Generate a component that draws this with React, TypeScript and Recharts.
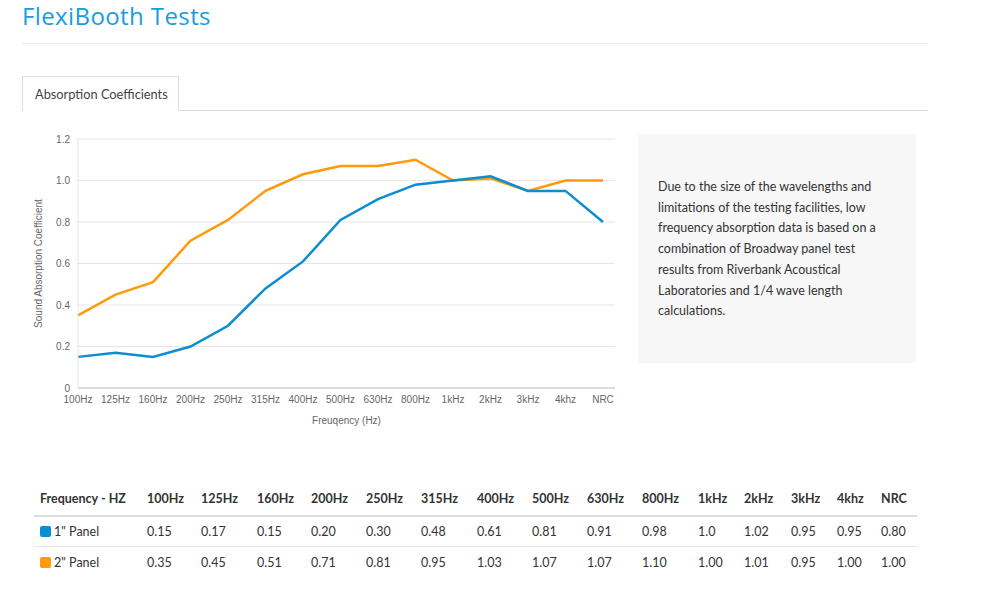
import React from 'react';
import { LineChart, Line, XAxis, YAxis, CartesianGrid } from 'recharts';

const categories = ['100Hz', '125Hz', '160Hz', '200Hz', '250Hz', '315Hz', '400Hz', '500Hz', '630Hz', '800Hz', '1kHz', '2kHz', '3kHz', '4khz', 'NRC'];
const panel1 = [0.15, 0.17, 0.15, 0.2, 0.3, 0.48, 0.61, 0.81, 0.91, 0.98, 1.0, 1.02, 0.95, 0.95, 0.8];
const panel2 = [0.35, 0.45, 0.51, 0.71, 0.81, 0.95, 1.03, 1.07, 1.07, 1.1, 1.0, 1.01, 0.95, 1.0, 1.0];
const panel1Labels = ['0.15', '0.17', '0.15', '0.20', '0.30', '0.48', '0.61', '0.81', '0.91', '0.98', '1.0', '1.02', '0.95', '0.95', '0.80'];
const panel2Labels = ['0.35', '0.45', '0.51', '0.71', '0.81', '0.95', '1.03', '1.07', '1.07', '1.10', '1.00', '1.01', '0.95', '1.00', '1.00'];
const yTicks = [0, 0.2, 0.4, 0.6, 0.8, 1.0, 1.2];
const seriesNames = ['1" Panel', '2" Panel'];

const BLUE = '#0b8dd2';
const ORANGE = '#ff9a0a';

const data = categories.map((c, i) => ({ name: c, p1: panel1[i], p2: panel2[i] }));

const colWidths = [107, 54, 56, 54, 55, 55, 56, 55, 55, 55, 56, 46, 47, 46, 44, 42];

const description =
  'Due to the size of the wavelengths and limitations of the testing facilities, low frequency absorption data is based on a combination of Broadway panel test results from Riverbank Acoustical Laboratories and 1/4 wave length calculations.';

const lato = 'Lato, "Open Sans", sans-serif';

export default function App() {
  const cellBase: React.CSSProperties = { padding: '0 0 0 6px', textAlign: 'left', whiteSpace: 'nowrap' };
  return (
    <div style={{ position: 'absolute', left: 0, top: 0, width: 1000, height: 598, background: '#fff', overflow: 'hidden', fontFamily: lato }}>
      <div style={{ position: 'absolute', left: 22, top: 0, height: 32, lineHeight: '32px', fontSize: 24, letterSpacing: 0.4, color: '#1a9be0', fontFamily: '"Open Sans", sans-serif' }}>
        FlexiBooth Tests
      </div>
      <div style={{ position: 'absolute', left: 22, top: 43, width: 906, height: 1, background: '#ececec' }} />

      <div style={{ position: 'absolute', left: 22, top: 76, width: 155, height: 34, border: '1px solid #dedede', borderBottom: 'none', background: '#fff', boxSizing: 'content-box' }}>
        <div style={{ position: 'absolute', left: 12, top: 0, lineHeight: '34px', fontSize: 12.8, color: '#444' }}>Absorption Coefficients</div>
      </div>
      <div style={{ position: 'absolute', left: 179, top: 110, width: 749, height: 1, background: '#dedede' }} />

      <div style={{ position: 'absolute', left: 0, top: 0 }}>
        <LineChart width={640} height={440} data={data} margin={{ top: 139, right: 25, bottom: 12, left: 33 }}>
          <CartesianGrid vertical={false} stroke="#e6e6e6" />
          <XAxis
            dataKey="name"
            tickLine={false}
            axisLine={{ stroke: '#c4c4c4' }}
            tick={{ fontSize: 10, fill: '#666', fontFamily: '"Liberation Sans", Arial, sans-serif' }}
            interval={0}
            padding={{ left: 0, right: 12 }}
            height={40}
            label={{ value: 'Freuqency (Hz)', position: 'insideBottom', offset: 4, style: { fontSize: 10, fill: '#666', fontFamily: '"Liberation Sans", Arial, sans-serif' } }}
          />
          <YAxis
            width={45}
            domain={[0, 1.2]}
            ticks={yTicks}
            tickLine={false}
            axisLine={{ stroke: '#e6e6e6' }}
            tick={{ fontSize: 10, fill: '#666', fontFamily: '"Liberation Sans", Arial, sans-serif' }}
            tickFormatter={(v: number) => (v === 0 ? '0' : v.toFixed(1))}
            label={{ value: 'Sound Absorption Coefficient', angle: -90, position: 'insideLeft', offset: 5, style: { fontSize: 10, fill: '#666', textAnchor: 'middle', fontFamily: '"Liberation Sans", Arial, sans-serif' } }}
          />
          <Line type="linear" dataKey="p2" name={seriesNames[1]} stroke={ORANGE} strokeWidth={2.5} dot={false} isAnimationActive={false} />
          <Line type="linear" dataKey="p1" name={seriesNames[0]} stroke={BLUE} strokeWidth={2.5} dot={false} isAnimationActive={false} />
        </LineChart>
      </div>

      <div style={{ position: 'absolute', left: 638, top: 134, width: 278, height: 229, background: '#f7f7f7' }}>
        <div style={{ position: 'absolute', left: 20, top: 43, width: 226, fontSize: 12.5, lineHeight: '20.7px', color: '#333' }}>{description}</div>
      </div>

      <table style={{ position: 'absolute', left: 34, top: 481, width: 883, borderCollapse: 'collapse', tableLayout: 'fixed', fontSize: 12.5, color: '#333' }}>
        <colgroup>
          {colWidths.map((w, i) => (
            <col key={i} style={{ width: w }} />
          ))}
        </colgroup>
        <thead>
          <tr style={{ height: 35, borderBottom: '2px solid #dddddd' }}>
            <th style={{ ...cellBase, fontWeight: 700 }}>Frequency - HZ</th>
            {categories.map((c) => (
              <th key={c} style={{ ...cellBase, fontWeight: 700 }}>{c}</th>
            ))}
          </tr>
        </thead>
        <tbody>
          {[panel1Labels, panel2Labels].map((row, r) => (
            <tr key={r} style={{ height: r === 0 ? 30 : 32, borderBottom: r === 0 ? '1px solid #e6e6e6' : 'none' }}>
              <td style={cellBase}>
                <span style={{ display: 'inline-block', width: 11, height: 11, borderRadius: 2, background: r === 0 ? BLUE : ORANGE, verticalAlign: '-1px', marginRight: 3 }} />
                {seriesNames[r]}
              </td>
              {row.map((v, i) => (
                <td key={i} style={cellBase}>{v}</td>
              ))}
            </tr>
          ))}
        </tbody>
      </table>
    </div>
  );
}
